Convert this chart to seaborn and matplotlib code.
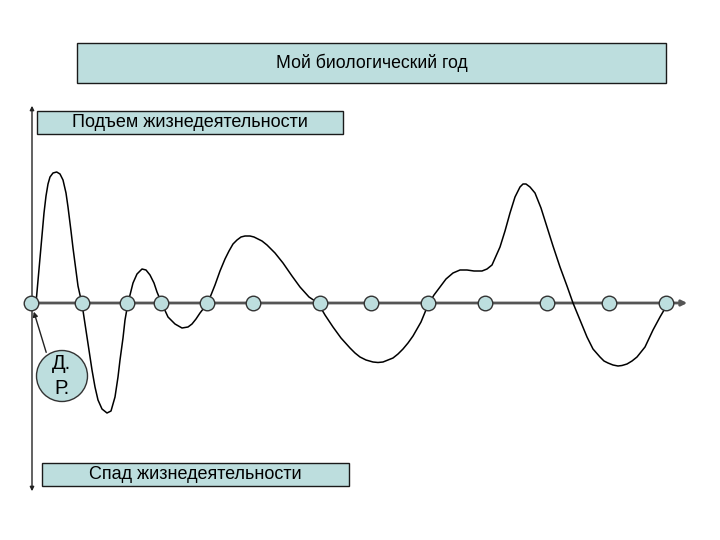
import numpy as np
import pandas as pd
import matplotlib
matplotlib.use("Agg")
import matplotlib.pyplot as plt
from matplotlib.patches import Rectangle, Circle
import seaborn as sns

## Мой биологический год - схема

# точки на оси (позиция по горизонтали)
axis_points = [31, 82, 127, 161, 207, 253, 320, 371, 428, 485, 547, 609, 666]

# кривая жизнедеятельности (x, уровень)
curve_x = [36, 38, 40, 42, 44, 46, 48, 50, 53, 56.7, 60, 63, 66, 68, 71, 73, 76, 78, 82,
           87, 92, 95, 98, 102, 107, 111, 115, 118, 120, 123, 125, 128, 133, 137, 142,
           146, 150, 154, 157, 162, 168, 175, 182, 188, 192, 196, 200, 207, 211, 215, 220, 225,
           229, 233, 237, 241, 245, 250, 254, 258, 262, 267, 275, 283, 292, 300, 309, 318, 325, 333, 341, 350,
           355, 360, 366, 373, 378, 383, 388, 393, 398, 403, 408, 413, 421, 428, 434, 440, 446, 453, 460, 467, 474,
           482, 487, 492, 496, 500, 505, 510, 515, 520, 523, 526, 530, 535, 541, 547,
           553, 560, 567, 573, 580, 587, 593, 600, 604, 608, 613, 618, 622, 627, 632, 637, 645, 653, 660, 667]
curve_y = [0, 22, 45, 68, 90, 107, 119, 126, 130, 131, 129, 123, 110, 96, 72, 55, 32, 17, -1,
           -34, -67, -84, -97, -106, -110, -108, -94, -74, -57, -35, -17, 0, 20, 29, 34,
           33, 28, 20, 11, -1, -14, -21, -25, -24, -21, -16, -10, -1, 8, 18, 32, 44,
           52, 59, 63, 66, 67, 67, 66, 64, 62, 58, 50, 40, 27, 16, 6, 0, -12, -24, -35, -45,
           -50, -54, -57, -59, -59.5, -59, -57, -55, -51, -46, -40, -33, -19, -2, 8, 16, 24, 30, 33, 33, 32,
           32, 34, 38, 47, 56, 72, 90, 106, 116, 119, 119, 116, 110, 95, 76,
           57, 36, 17, 0, -17, -34, -46, -54, -58, -60, -62, -63, -62.5, -61, -58, -54, -44, -27, -14, -2]

curve = pd.DataFrame({"x": curve_x, "y": curve_y})
points = pd.DataFrame({"x": axis_points, "y": [0] * len(axis_points)})

box_color = "#bddede"
edge = "#1a1a1a"

plt.rcParams['font.family'] = ['Liberation Sans', 'DejaVu Sans']

fig = plt.figure(figsize=(7.2, 5.4), dpi=100)
ax = fig.add_axes([0, 0, 1, 1])
ax.set_xlim(0, 720)
ax.set_ylim(303 - 540, 303)
ax.axis('off')

# оси
ax.annotate('', xy=(690, 0), xytext=(24, 0),
            arrowprops=dict(arrowstyle='-|>', color='#555555', lw=2, mutation_scale=8))
ax.annotate('', xy=(32, 303 - 103), xytext=(32, 303 - 494),
            arrowprops=dict(arrowstyle='<|-|>', color='#222222', lw=1, mutation_scale=6))

# кривая
sns.lineplot(data=curve, x='x', y='y', sort=False, color='black', lw=1.1, ax=ax, zorder=3,
             solid_joinstyle='round')

# кружки на оси
sns.scatterplot(data=points, x='x', y='y', s=110, color=box_color, edgecolor='#333333',
                linewidth=1, ax=ax, zorder=4)

# прямоугольники с подписями
ax.add_patch(Rectangle((77, 303 - 83), 589, 40, facecolor=box_color, edgecolor=edge, lw=1))
ax.text(372, 303 - 63, 'Мой биологический год', ha='center', va='center', fontsize=12.7)

ax.add_patch(Rectangle((37, 303 - 134), 306, 23, facecolor=box_color, edgecolor=edge, lw=1))
ax.text(190, 303 - 122.5, 'Подъем жизнедеятельности', ha='center', va='center', fontsize=13)

ax.add_patch(Rectangle((42, 303 - 486), 307, 23, facecolor=box_color, edgecolor=edge, lw=1))
ax.text(195, 303 - 474.5, 'Спад жизнедеятельности', ha='center', va='center', fontsize=13)

# Д.Р. - день рождения
ax.add_patch(Circle((62, 303 - 376), 25.5, facecolor=box_color, edgecolor='#333333', lw=1, zorder=5))
ax.text(62, 303 - 376, 'Д.\nР.', ha='center', va='center', fontsize=14.5, linespacing=1.4, zorder=6)
ax.annotate('', xy=(33, 303 - 309), xytext=(47, 303 - 355),
            arrowprops=dict(arrowstyle='-|>', color='#222222', lw=1, mutation_scale=7))

fig.savefig('out.png', dpi=100)
